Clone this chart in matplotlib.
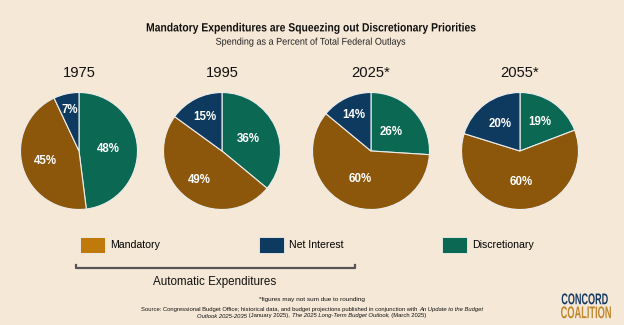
import matplotlib

matplotlib.use("Agg")
import matplotlib.pyplot as plt
import numpy as np
from matplotlib.lines import Line2D
from matplotlib.patches import Patch
from matplotlib.patheffects import AbstractPathEffect
from matplotlib.transforms import Affine2D

# data
years = ["1975", "1995", "2025*", "2055*"]
discretionary = [48, 36, 26, 19]
mandatory = [45, 49, 60, 60]
net_interest = [7, 15, 14, 20]
categories = ["Mandatory", "Net Interest", "Discretionary"]

# style
BG = "#F5E8D7"
PIE_COLORS = ["#0B6953", "#8C570A", "#0D3A5E"]  # disc, mand, net (pie order)
LEGEND_COLORS = ["#C07A0C", "#0D3A5E", "#0B6953"]
W, H = 624, 325

plt.rcParams["font.family"] = ["Liberation Sans", "DejaVu Sans"]

fig = plt.figure(figsize=(W / 100, H / 100), dpi=100, facecolor=BG)
renderer = fig.canvas.get_renderer()


def fx(px):
    return px / W


def fy(py):
    return 1 - py / H


def fit(text, width_px):
    w = text.get_window_extent(renderer).width
    text.set_fontsize(text.get_fontsize() * width_px / w)


class StretchY(AbstractPathEffect):
    """Stretch drawn text vertically about its centre (narrow-font look)."""

    def __init__(self, factor=1.0, height=None):
        super().__init__()
        self.factor = factor
        self.height = height

    def draw_path(self, renderer, gc, tpath, affine, rgbFace=None):
        ext = tpath.get_extents(affine)
        sy = self.height / ext.height if self.height else self.factor
        cx, cy = (ext.x0 + ext.x1) / 2, (ext.y0 + ext.y1) / 2
        new = affine + Affine2D().translate(-cx, -cy).scale(1, sy).translate(cx, cy)
        renderer.draw_path(gc, tpath, new, rgbFace)


# pies
pie_x = [79, 222, 371, 520]
pie_y = 151
radius = 58.5
label_dist = [[0.50, 0.59, 0.72], [0.49, 0.63, 0.66], [0.48, 0.52, 0.68], [0.61, 0.53, 0.58]]

for i, year in enumerate(years):
    vals = [discretionary[i], mandatory[i], net_interest[i]]
    ax = fig.add_axes([fx(pie_x[i] - radius), fy(pie_y + radius), 2 * radius / W, 2 * radius / H])
    wedges, _ = ax.pie(vals, colors=PIE_COLORS, startangle=90, counterclock=False,
                       wedgeprops=dict(edgecolor="#EDEDED", linewidth=0.8))
    ax.set_xlim(-1, 1)
    ax.set_ylim(-1, 1)
    ax.set_aspect("equal")
    ax.axis("off")
    for w, v, d in zip(wedges, vals, label_dist[i]):
        w.set_clip_on(False)
        mid = np.deg2rad((w.theta1 + w.theta2) / 2)
        ax.text(d * np.cos(mid), d * np.sin(mid), f"{v}%", color="white",
                fontsize=8.3, fontweight="bold", ha="center", va="center")
    fig.text(fx(pie_x[i]), fy(73), year, fontsize=10.6, color="#111111", ha="center", va="center")

# titles
title = fig.text(0.5, fy(28), "Mandatory Expenditures are Squeezing out Discretionary Priorities",
                 fontsize=8, fontweight="bold", color="#111111", ha="center", va="center",
                 path_effects=[StretchY(1.15)])
fit(title, 332)
subtitle = fig.text(0.5, fy(42), "Spending as a Percent of Total Federal Outlays",
                    fontsize=7, color="#222222", ha="center", va="center",
                    path_effects=[StretchY(1.08)])
fit(subtitle, 190)

# legend
handles = [Patch(facecolor=c, edgecolor="#F0F0F0", linewidth=0.6, label=lab)
           for c, lab in zip(LEGEND_COLORS, categories)]
fig.legend(handles=handles, loc="center left", bbox_to_anchor=(fx(80), fy(245)), ncol=3,
           frameon=False, fontsize=7.6, handlelength=2.4, handleheight=2.1,
           handletextpad=0.5, columnspacing=9.3, borderpad=0, borderaxespad=0)

# automatic expenditures bracket
fig.add_artist(Line2D([fx(76), fx(76), fx(355), fx(355)], [fy(265), fy(268), fy(268), fy(265)],
                      transform=fig.transFigure, color="#555555", linewidth=1.6))
fig.text(fx(215), fy(282), "Automatic Expenditures", fontsize=8.4, color="#111111",
         ha="center", va="center")

# footnotes
note = fig.text(0.5, fy(299), "*figures may not sum due to rounding", fontsize=5,
                color="#111111", ha="center", va="center")
fit(note, 108)

source_lines = [
    [("Source: Congressional Budget Office; historical data, and budget projections published in conjunction with ", "normal"),
     ("An Update to the Budget", "italic")],
    [("Outlook 2025-2035", "italic"), (" (January 2025), ", "normal"),
     ("The 2025 Long-Term Budget Outlook", "italic"), (", (March 2025)", "normal")],
]
source_y = [309, 316]
source_size = 4.1
all_pieces = []
for parts, y in zip(source_lines, source_y):
    pieces = [fig.text(0, fy(y), s, fontsize=source_size, style=st, color="#111111",
                       ha="left", va="center") for s, st in parts]
    all_pieces.append(pieces)

# scale source text so the first line spans ~340 px
line1 = sum(p.get_window_extent(renderer).width for p in all_pieces[0])
source_size *= 340 / line1
for pieces, y in zip(all_pieces, source_y):
    for p in pieces:
        p.set_fontsize(source_size)
    widths = [p.get_window_extent(renderer).width for p in pieces]
    x_px = W / 2 - sum(widths) / 2
    for p, wd in zip(pieces, widths):
        p.set_position((fx(x_px), fy(y)))
        x_px += wd

# logo
logo1 = fig.text(fx(585), fy(299.5), "CONCORD", fontsize=9, fontweight="bold",
                 color="#173A63", ha="center", va="center", path_effects=[StretchY(height=11)])
logo2 = fig.text(fx(586), fy(313), "COALITION", fontsize=9, fontweight="bold",
                 color="#C0862C", ha="center", va="center", path_effects=[StretchY(height=12)])
fit(logo1, 47)
fit(logo2, 51)

fig.savefig("out.png", dpi=100, facecolor=BG)
